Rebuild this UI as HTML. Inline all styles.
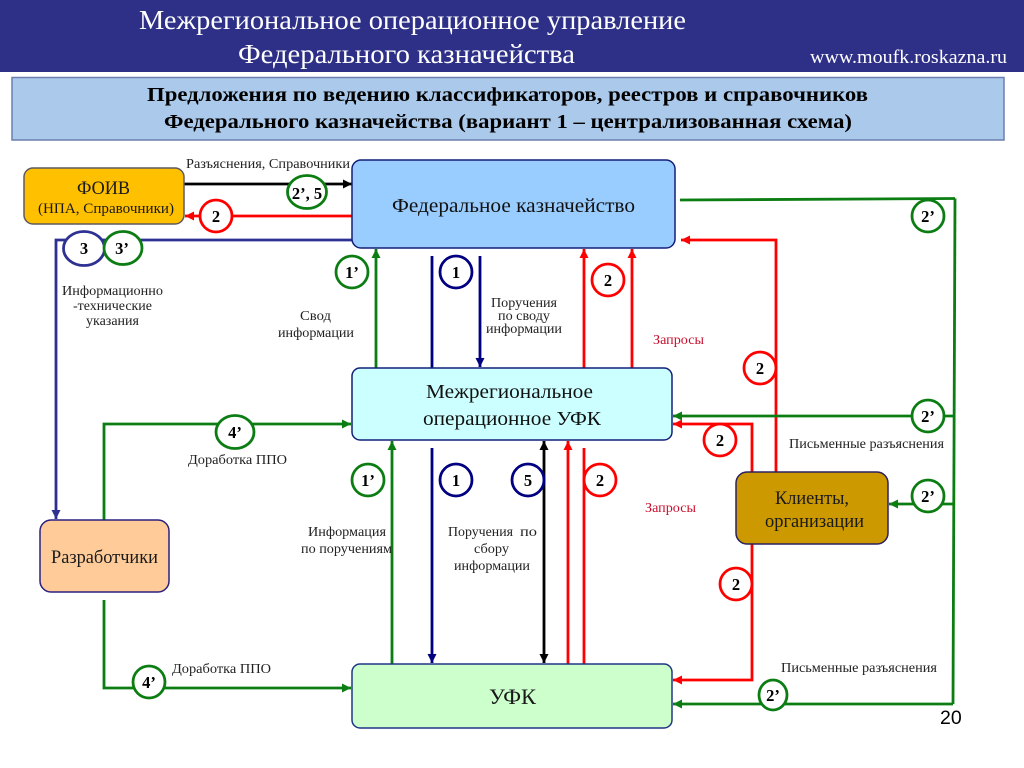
<!DOCTYPE html>
<html lang="ru">
<head>
<meta charset="utf-8">
<title>Межрегиональное операционное управление</title>
<style>
html,body{margin:0;padding:0;background:#fff;width:1024px;height:768px;overflow:hidden}
svg{display:block}
text{font-family:"Liberation Serif","Noto Serif CJK SC",serif;fill:#1a1a1a}
.n{font-weight:bold;font-size:16.500px;fill:#000;text-anchor:middle}
.s{font-size:13.500px;fill:#222}
.m{font-size:20px;fill:#111}
</style>
</head>
<body>
<svg width="1024" height="768" viewBox="0 0 1024 768" xmlns="http://www.w3.org/2000/svg">
<defs>
<marker id="ag" markerUnits="userSpaceOnUse" markerWidth="10" markerHeight="10" refX="9" refY="4.500" orient="auto"><path d="M0 0L9 4.500L0 9z" fill="#0b7d12"/></marker>
<marker id="ar" markerUnits="userSpaceOnUse" markerWidth="10" markerHeight="10" refX="9" refY="4.500" orient="auto"><path d="M0 0L9 4.500L0 9z" fill="#f00"/></marker>
<marker id="ak" markerUnits="userSpaceOnUse" markerWidth="10" markerHeight="10" refX="9" refY="4.500" orient="auto-start-reverse"><path d="M0 0L9 4.500L0 9z" fill="#000"/></marker>
<marker id="an" markerUnits="userSpaceOnUse" markerWidth="10" markerHeight="10" refX="9" refY="4.500" orient="auto"><path d="M0 0L9 4.500L0 9z" fill="#000080"/></marker>
<marker id="ab" markerUnits="userSpaceOnUse" markerWidth="10" markerHeight="10" refX="9" refY="4.500" orient="auto"><path d="M0 0L9 4.500L0 9z" fill="#2e3192"/></marker>
</defs>

<rect x="0" y="0" width="1024" height="72" fill="#2e3088"/>
<text x="139" y="29" font-size="27.500" textLength="547" lengthAdjust="spacingAndGlyphs" style="fill:#fff">Межрегиональное операционное управление</text>
<text x="238" y="63" font-size="27.500" textLength="337" lengthAdjust="spacingAndGlyphs" style="fill:#fff">Федерального казначейства</text>
<text x="810" y="63" font-size="18.500" textLength="197" lengthAdjust="spacingAndGlyphs" style="fill:#fff">www.moufk.roskazna.ru</text>

<rect x="12" y="77.500" width="992" height="62.500" fill="#abc9ea" stroke="#6b7fb0" stroke-width="1.500"/>
<text x="147" y="101" font-size="20.500" font-weight="bold" textLength="721" lengthAdjust="spacingAndGlyphs" style="fill:#000">Предложения по ведению классификаторов, реестров и справочников</text>
<text x="164" y="128" font-size="20.500" font-weight="bold" textLength="688" lengthAdjust="spacingAndGlyphs" style="fill:#000">Федерального казначейства (вариант 1 – централизованная схема)</text>

<g fill="none" stroke-width="2.800">
<path d="M184 184H352" stroke="#000" marker-end="url(#ak)"/>
<path d="M352 216H185" stroke="#f00" marker-end="url(#ar)"/>
<path d="M352 240H56V519" stroke="#2e3192" marker-end="url(#ab)"/>
<path d="M376 368V249" stroke="#0b7d12" marker-end="url(#ag)"/>
<path d="M432 256V368" stroke="#000080"/>
<path d="M480 256V367" stroke="#000080" marker-end="url(#an)"/>
<path d="M584 368V249" stroke="#f00" marker-end="url(#ar)"/>
<path d="M632 368V249" stroke="#f00" marker-end="url(#ar)"/>
<path d="M776 472V240H681" stroke="#f00" marker-end="url(#ar)"/>
<path d="M680 200L955 198.500" stroke="#0b7d12"/>
<path d="M955 198.500L953 704" stroke="#0b7d12"/>
<path d="M954 416H673" stroke="#0b7d12" marker-end="url(#ag)"/>
<path d="M752 472V424H673" stroke="#f00" marker-end="url(#ar)"/>
<path d="M752 544V680H673" stroke="#f00" marker-end="url(#ar)"/>
<path d="M953 504H889" stroke="#0b7d12" marker-end="url(#ag)"/>
<path d="M953 704H673" stroke="#0b7d12" marker-end="url(#ag)"/>
<path d="M104 520V424H351" stroke="#0b7d12" marker-end="url(#ag)"/>
<path d="M104 600V688H351" stroke="#0b7d12" marker-end="url(#ag)"/>
<path d="M392 664V441" stroke="#0b7d12" marker-end="url(#ag)"/>
<path d="M432 448V663" stroke="#000080" marker-end="url(#an)"/>
<path d="M544 441V663" stroke="#000" marker-start="url(#ak)" marker-end="url(#ak)"/>
<path d="M568 664V441" stroke="#f00" marker-end="url(#ar)"/>
<path d="M584 448V665" stroke="#f00"/>
</g>

<rect x="352" y="160" width="323" height="88" rx="9" fill="#99ccff" stroke="#141f78" stroke-width="1.500"/>
<rect x="352" y="368" width="320" height="72" rx="8" fill="#ccffff" stroke="#141f78" stroke-width="1.500"/>
<rect x="352" y="664" width="320" height="64" rx="8" fill="#ccffcc" stroke="#1f3585" stroke-width="1.500"/>
<rect x="24" y="168" width="160" height="56" rx="9" fill="#ffc000" stroke="#5f5a60" stroke-width="1.500"/>
<rect x="40" y="520" width="129" height="72" rx="11" fill="#ffcc99" stroke="#2a2080" stroke-width="1.500"/>
<rect x="736" y="472" width="152" height="72" rx="11" fill="#cc9900" stroke="#2a2060" stroke-width="1.500"/>

<text x="77" y="194" font-size="19" textLength="53" lengthAdjust="spacingAndGlyphs">ФОИВ</text>
<text x="38" y="213" font-size="15" textLength="136" lengthAdjust="spacingAndGlyphs">(НПА, Справочники)</text>
<text x="392" y="212" class="m" textLength="243" lengthAdjust="spacingAndGlyphs">Федеральное казначейство</text>
<text x="426" y="398" class="m" textLength="167" lengthAdjust="spacingAndGlyphs">Межрегиональное</text>
<text x="423" y="425" class="m" textLength="178" lengthAdjust="spacingAndGlyphs">операционное УФК</text>
<text x="489" y="704" font-size="22" textLength="47" lengthAdjust="spacingAndGlyphs">УФК</text>
<text x="51" y="563" font-size="18.500" textLength="107" lengthAdjust="spacingAndGlyphs">Разработчики</text>
<text x="775" y="504" font-size="18.500" textLength="74" lengthAdjust="spacingAndGlyphs">Клиенты,</text>
<text x="765" y="527" font-size="18.500" textLength="99" lengthAdjust="spacingAndGlyphs">организации</text>

<text x="186" y="168" class="s" textLength="164" lengthAdjust="spacingAndGlyphs">Разъяснения, Справочники</text>
<text x="62" y="295" class="s" textLength="101" lengthAdjust="spacingAndGlyphs">Информационно</text>
<text x="73" y="310" class="s" textLength="79" lengthAdjust="spacingAndGlyphs">-технические</text>
<text x="86" y="325" class="s" textLength="53" lengthAdjust="spacingAndGlyphs">указания</text>
<text x="300" y="320" class="s" textLength="31" lengthAdjust="spacingAndGlyphs">Свод</text>
<text x="278" y="337" class="s" textLength="76" lengthAdjust="spacingAndGlyphs">информации</text>
<text x="491" y="307" class="s" textLength="66" lengthAdjust="spacingAndGlyphs">Поручения</text>
<text x="498" y="320" class="s" textLength="52" lengthAdjust="spacingAndGlyphs">по своду</text>
<text x="486" y="333" class="s" textLength="76" lengthAdjust="spacingAndGlyphs">информации</text>
<text x="653" y="344" class="s" textLength="51" lengthAdjust="spacingAndGlyphs" style="fill:#c8102e">Запросы</text>
<text x="645" y="512" class="s" textLength="51" lengthAdjust="spacingAndGlyphs" style="fill:#c8102e">Запросы</text>
<text x="188" y="464" class="s" textLength="99" lengthAdjust="spacingAndGlyphs">Доработка ППО</text>
<text x="172" y="673" class="s" textLength="99" lengthAdjust="spacingAndGlyphs">Доработка ППО</text>
<text x="308" y="536" class="s" textLength="78" lengthAdjust="spacingAndGlyphs">Информация</text>
<text x="301" y="553" class="s" textLength="91" lengthAdjust="spacingAndGlyphs">по поручениям</text>
<text x="448" y="536" class="s" textLength="65" lengthAdjust="spacingAndGlyphs">Поручения</text>
<text x="520" y="536" class="s" textLength="17" lengthAdjust="spacingAndGlyphs">по</text>
<text x="474" y="553" class="s" textLength="35" lengthAdjust="spacingAndGlyphs">сбору</text>
<text x="454" y="570" class="s" textLength="76" lengthAdjust="spacingAndGlyphs">информации</text>
<text x="789" y="448" class="s" textLength="155" lengthAdjust="spacingAndGlyphs">Письменные разъяснения</text>
<text x="781" y="672" class="s" textLength="156" lengthAdjust="spacingAndGlyphs">Письменные разъяснения</text>

<g fill="#fff" stroke-width="2.800">
<ellipse cx="307" cy="192" rx="19.500" ry="16.500" stroke="#0b7d12"/>
<circle cx="216" cy="216" r="16" stroke="#f00"/>
<ellipse cx="84" cy="248.500" rx="20.500" ry="17" stroke="#2e3192"/>
<ellipse cx="123" cy="248" rx="19" ry="16.500" stroke="#0b7d12"/>
<circle cx="352" cy="272" r="16" stroke="#0b7d12"/>
<circle cx="456" cy="272" r="16" stroke="#000080"/>
<circle cx="608" cy="280" r="16" stroke="#f00"/>
<circle cx="928" cy="216" r="16" stroke="#0b7d12"/>
<circle cx="760" cy="368" r="16" stroke="#f00"/>
<circle cx="928" cy="416" r="16" stroke="#0b7d12"/>
<circle cx="720" cy="440" r="16" stroke="#f00"/>
<circle cx="928" cy="496" r="16" stroke="#0b7d12"/>
<circle cx="736" cy="584" r="16" stroke="#f00"/>
<ellipse cx="773" cy="695" rx="14" ry="15" stroke="#0b7d12"/>
<ellipse cx="235" cy="432" rx="19" ry="16.500" stroke="#0b7d12"/>
<circle cx="149" cy="682" r="16" stroke="#0b7d12"/>
<circle cx="368" cy="480" r="16" stroke="#0b7d12"/>
<circle cx="456" cy="480" r="16" stroke="#000080"/>
<circle cx="528" cy="480" r="16" stroke="#000080"/>
<circle cx="600" cy="480" r="16" stroke="#f00"/>
</g>

<text x="307" y="199" class="n">2’, 5</text>
<text x="216" y="222" class="n">2</text>
<text x="84" y="254" class="n">3</text>
<text x="122" y="254" class="n">3’</text>
<text x="352" y="278" class="n">1’</text>
<text x="456" y="278" class="n">1</text>
<text x="608" y="286" class="n">2</text>
<text x="928" y="222" class="n">2’</text>
<text x="760" y="374" class="n">2</text>
<text x="928" y="422" class="n">2’</text>
<text x="720" y="446" class="n">2</text>
<text x="928" y="502" class="n">2’</text>
<text x="736" y="590" class="n">2</text>
<text x="773" y="701" class="n">2’</text>
<text x="235" y="438" class="n">4’</text>
<text x="149" y="688" class="n">4’</text>
<text x="368" y="486" class="n">1’</text>
<text x="456" y="486" class="n">1</text>
<text x="528" y="486" class="n">5</text>
<text x="600" y="486" class="n">2</text>

<text x="940" y="724" font-size="19.500" style="font-family:'Liberation Sans',sans-serif;fill:#000">20</text>
</svg>
</body>
</html>
